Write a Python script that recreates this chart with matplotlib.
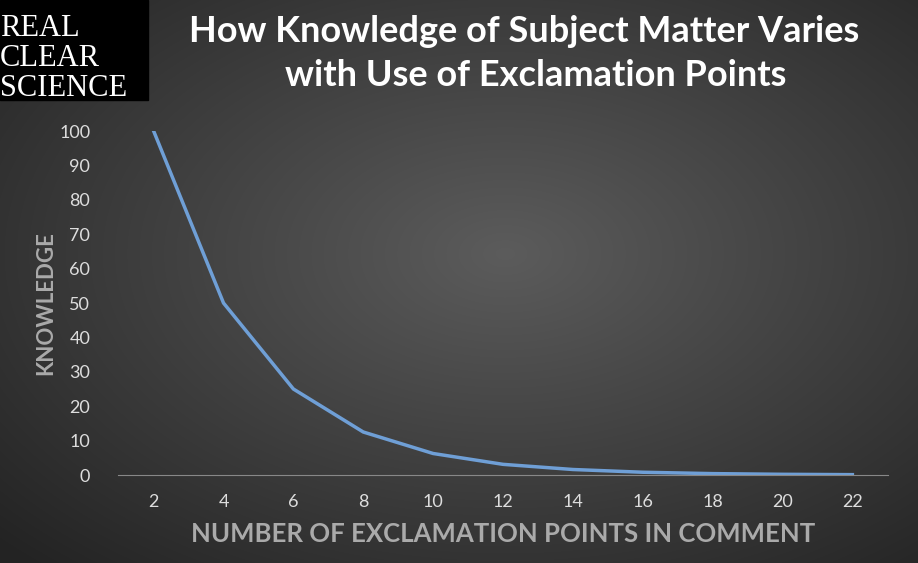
import numpy as np
import matplotlib.pyplot as plt

comments = [2, 4, 6, 8, 10, 12, 14, 16, 18, 20, 22]
knowledge = [100, 50, 25, 12.5, 6.25, 3.1, 1.6, 0.8, 0.4, 0.2, 0.1]
yticks = list(range(0, 101, 10))

W, H = 918, 563
fig = plt.figure(figsize=(W / 100, H / 100), dpi=100)

# radial gradient background
bg = fig.add_axes([0, 0, 1, 1])
yy, xx = np.mgrid[0:H, 0:W]
r = np.sqrt(((xx - W * 0.55) / W) ** 2 + ((yy - H * 0.45) / H) ** 2)
shade = 0.36 - 0.22 * np.clip(r / 0.75, 0, 1)
bg.imshow(np.dstack([shade] * 3), aspect='auto', extent=[0, W, H, 0])
bg.set_xlim(0, W)
bg.set_ylim(H, 0)
bg.axis('off')

# logo
bg.add_patch(plt.Rectangle((0, 0), 148, 100, color='black'))
for i, word in enumerate(['REAL', 'CLEAR', 'SCIENCE']):
    bg.text(0, 36 + i * 30, word, color='white', fontsize=22, family='Liberation Serif',
            va='baseline', ha='left', fontstretch='condensed')

fig.text(0.571, 0.944, 'How Knowledge of Subject Matter Varies', color='white',
         fontsize=26, fontweight='bold', family='Lato', ha='center', va='center')
fig.text(0.584, 0.866, 'with Use of Exclamation Points', color='white',
         fontsize=26, fontweight='bold', family='Lato', ha='center', va='center')

ax = fig.add_axes([118 / W, 1 - 475 / H, (888 - 118) / W, (475 - 131) / H])
ax.patch.set_alpha(0)
ax.plot(comments, knowledge, color='#6f9fd6', lw=2.5)
ax.set_xlim(0.98, 23.02)
ax.set_ylim(0, 100)
ax.set_xticks(comments)
ax.set_yticks(yticks)
for s in ['top', 'right', 'left']:
    ax.spines[s].set_visible(False)
ax.spines['bottom'].set_color('#888888')
ax.tick_params(length=0, colors='#dddddd', labelsize=13)
ax.tick_params(axis='x', pad=14)
ax.tick_params(axis='y', pad=20)
for t in ax.get_xticklabels() + ax.get_yticklabels():
    t.set_family('Lato')
ax.set_xlabel('NUMBER OF EXCLAMATION POINTS IN COMMENT', color='#aaaaaa', fontsize=18.5,
              fontweight='bold', family='Lato', labelpad=8)
ax.set_ylabel('KNOWLEDGE', color='#aaaaaa', fontsize=16, fontweight='bold',
              family='Lato', labelpad=2)

fig.savefig('out.png', dpi=100)
